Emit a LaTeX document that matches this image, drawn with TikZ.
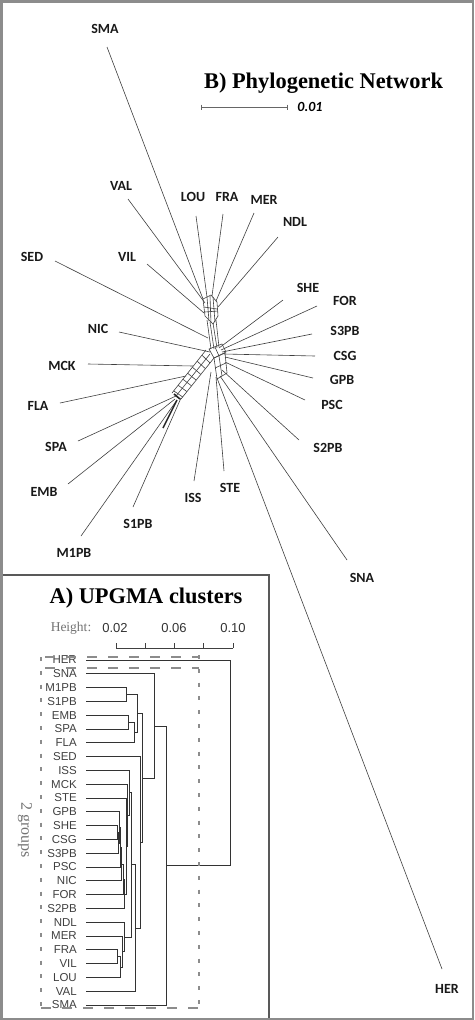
\documentclass[tikz,border=0pt]{standalone}
\usepackage{fontspec}
\setmainfont{Liberation Serif}
\newfontfamily\calfont{Carlito}
\newfontfamily\arialfont{Liberation Sans}
\usetikzlibrary{calc}
\begin{document}
\begin{tikzpicture}[x=1pt,y=-1pt,
  leaf/.style={font=\calfont\bfseries\fontsize{14}{16}\selectfont, inner sep=0pt, text=black!90},
  netline/.style={draw=black!75, line width=0.6pt},
  dlabel/.style={font=\arialfont\fontsize{11.5}{12}\selectfont, text=black!75, anchor=east, inner sep=0pt},
  dline/.style={draw=black!80, line width=0.7pt},
  dashv/.style={draw=black!45, line width=1.6pt, dash pattern=on 4pt off 9.8pt},
  dashh/.style={draw=black!45, line width=1.6pt, dash pattern=on 10pt off 11pt},
  titlefont/.style={font=\bfseries\fontsize{22.4}{24}\selectfont, inner sep=0pt}]
\useasboundingbox (0,0) rectangle (474,1020);
\fill[white] (0,0) rectangle (474,1020);
% outer frame
\draw[black!45, line width=2.5pt] (1.25,1.25) rectangle (472.75,1018.75);

% ---------- B) network ----------
\node[titlefont] (titleB) at (323.5,83) {B) Phylogenetic Network};
\coordinate (sb1) at (201,107);
\coordinate (sb2) at (287,107);
\draw[black!60, line width=0.8pt] (sb1) -- (sb2);
\draw[black!60, line width=0.8pt] ($(sb1)+(0,-2.5)$) -- ($(sb1)+(0,2.5)$);
\draw[black!60, line width=0.8pt] ($(sb2)+(0,-2.5)$) -- ($(sb2)+(0,2.5)$);
\node[font=\calfont\bfseries\itshape\fontsize{14}{16}\selectfont, inner sep=0pt] (sbl) at (310,107) {0.01};

\foreach \n/\lx/\ly in {SMA/105/29, VAL/121/186, LOU/193/197, FRA/227/197, MER/264/200,
  NDL/295/222, SED/32/257, VIL/127/257, SHE/308/288, FOR/345/301, S3PB/345/331,
  CSG/345/356, GPB/342/380, PSC/332/405, S2PB/328/448, NIC/98/329, MCK/62/366,
  FLA/38/406, SPA/56/447, EMB/44/492, S1PB/138/524, ISS/193/498, STE/230/488,
  M1PB/74/553, SNA/362/578, HER/447/989}
  {\node[leaf] (n\n) at (\lx,\ly) {\n};}

\foreach \n/\ex/\ey/\ix/\iy in {SMA/107/47/203/299, VAL/128/199/205/303, LOU/196/216/207/297,
  FRA/223/214/212/296, MER/254/213/216/301, NDL/278/237/218/307, VIL/147/264/204/313,
  SED/55/261/208/338, NIC/119/332/210/352, MCK/88/364/193/366, FLA/60/403/186/376,
  SPA/78/441/176/396, EMB/68/484/175/399, S1PB/133/507/181/398, M1PB/81/536/177/400,
  ISS/194/481/211/372, STE/224/471/216/377, SHE/283/300/219/348, FOR/317/306/221/350,
  S3PB/312/334/222/352, CSG/315/356/224/354, GPB/313/378/225/357, PSC/305/400/225/362,
  S2PB/299/440/222/370, SNA/347/560/220/376, HER/442/969/217/378}
  {\coordinate (e\n) at (\ex,\ey); \coordinate (i\n) at (\ix,\iy);
   \draw[netline] (e\n) -- (i\n);}

% upper box
\coordinate (u1) at (203,299); \coordinate (u2) at (211,295); \coordinate (u3) at (217,302);
\coordinate (u4) at (218,316); \coordinate (u5) at (213,324); \coordinate (u6) at (205,316);
\draw[netline] (u1) -- (u2) -- (u3) -- (u4) -- (u5) -- (u6) -- cycle;
\draw[netline] (207,297) -- (209,321) (213,297) -- (215,322) (204,307) -- (217,309)
  (205,312) -- (218,311) (210,296) -- (211,323);
% stem
\draw[netline] (207,320) -- (211,349) (210,322) -- (214,349) (213,323) -- (217,348)
  (216,320) -- (219,347);
% hub
\draw[netline] (209,349) -- (222,344) -- (226,352) -- (214,358) -- cycle;
\draw[netline] (215,347) -- (219,356);
% lower right box
\draw[netline] (214,358) -- (225,353) -- (227,373) -- (217,379) -- cycle;
\draw[netline] (219,356) -- (222,376) (215,368) -- (226,363);
% ladder to lower left
\coordinate (la1) at (206,350); \coordinate (la2) at (172,393);
\coordinate (lb1) at (210,354); \coordinate (lb2) at (176,396);
\coordinate (lc1) at (214,358); \coordinate (lc2) at (181,399);
\draw[netline] (la1) -- (la2) (lb1) -- (lb2) (lc1) -- (lc2);
\foreach \t in {0.12,0.26,0.4,0.54,0.68,0.82,0.95}
  {\draw[netline] ($(la1)!\t!(la2)$) -- ($(lc1)!\t!(lc2)$);}
\draw[black!85, line width=1.6pt] (174,394) -- (180,399);
\draw[black!85, line width=1.4pt] (177,400) -- (163,428);

% ---------- A) UPGMA ----------
\draw[black!65, line width=1.5pt] (2.5,575) -- (269,575) -- (269,1018);
\node[titlefont] (titleA) at (146,598) {A) UPGMA clusters};
\node[font=\fontsize{13.5}{14}\selectfont, text=black!55, inner sep=0pt] (hgt) at (71,628) {Height:};
\foreach \v/\x in {0.02/115, 0.06/174, 0.10/233}
  {\node[font=\arialfont\fontsize{13}{14}\selectfont, text=black!80, inner sep=0pt] (ax\x) at (\x,628) {\v};}
\coordinate (ax0) at (116,648); \coordinate (ax1) at (233,648);
\draw[black!75, line width=0.8pt] (ax0) -- (ax1);
\foreach \x in {116,145.25,174.5,203.75,233}
  {\draw[black!75, line width=0.8pt] (\x,648) -- (\x,643);}

\foreach \n/\y in {HER/660, SNA/673.8, M1PB/687.6, S1PB/701.4, EMB/715.2, SPA/729,
  FLA/742.8, SED/756.6, ISS/770.4, MCK/784.2, STE/798, GPB/811.8, SHE/825.6,
  CSG/839.4, S3PB/853.2, PSC/867, NIC/880.8, FOR/894.6, S2PB/908.4, NDL/922.2,
  MER/936, FRA/949.8, VIL/963.6, LOU/977.4, VAL/991.2, SMA/1005}
  {\coordinate (d\n) at (86,\y); \node[dlabel] (t\n) at (77,\y) {\n};}

\foreach \c/\x/\y/\a/\b in {A1/126/694.5/dM1PB/dS1PB, A2/128/722.1/dEMB/dSPA,
  A3/134/732.45/A2/dFLA, A4/137/713.5/A1/A3,
  B1/117/832.5/dSHE/dCSG, B2/118/842.85/B1/dS3PB, B3/119/827.3/dGPB/B2,
  B4/120/847.15/B3/dPSC, B5/121.5/864/B4/dNIC, B6/123/879.3/B5/dFOR,
  B7/124.5/893.85/B6/dS2PB, B8/126/845.9/dSTE/B7, B9/127.5/815/dMCK/B8,
  B10/129/792.7/dISS/B9,
  C1/117/956.7/dFRA/dVIL, C2/120/967/C1/dLOU, C3/122/951.5/dMER/C2,
  C4/124/936.85/dNDL/C3,
  D1/131/864.8/B10/C4, D2/135/928/D1/dVAL, D3/140/842.3/dSED/D2,
  E/142/777.9/A4/D3, F/154/725.85/dSNA/E, G/166/865.4/F/dSMA, R/230/762.7/dHER/G}
  {\coordinate (\c) at (\x,\y); \draw[dline] (\a) -| (\c) (\b) -| (\c);}

% group boxes
\draw[dashv] (41,657) -- (41,1008);
\draw[dashv] (199,655) -- (199,1008);
\draw[dashh] (41,1008) -- (199,1008);
\draw[dashh] (45,657) -- (199,657);
\draw[dashh] (45,668) -- (199,668);
\node[font=\fontsize{16}{17}\selectfont, text=black!55, rotate=-90, inner sep=0pt] (grp) at (25,830) {2 groups};
\end{tikzpicture}
\end{document}
